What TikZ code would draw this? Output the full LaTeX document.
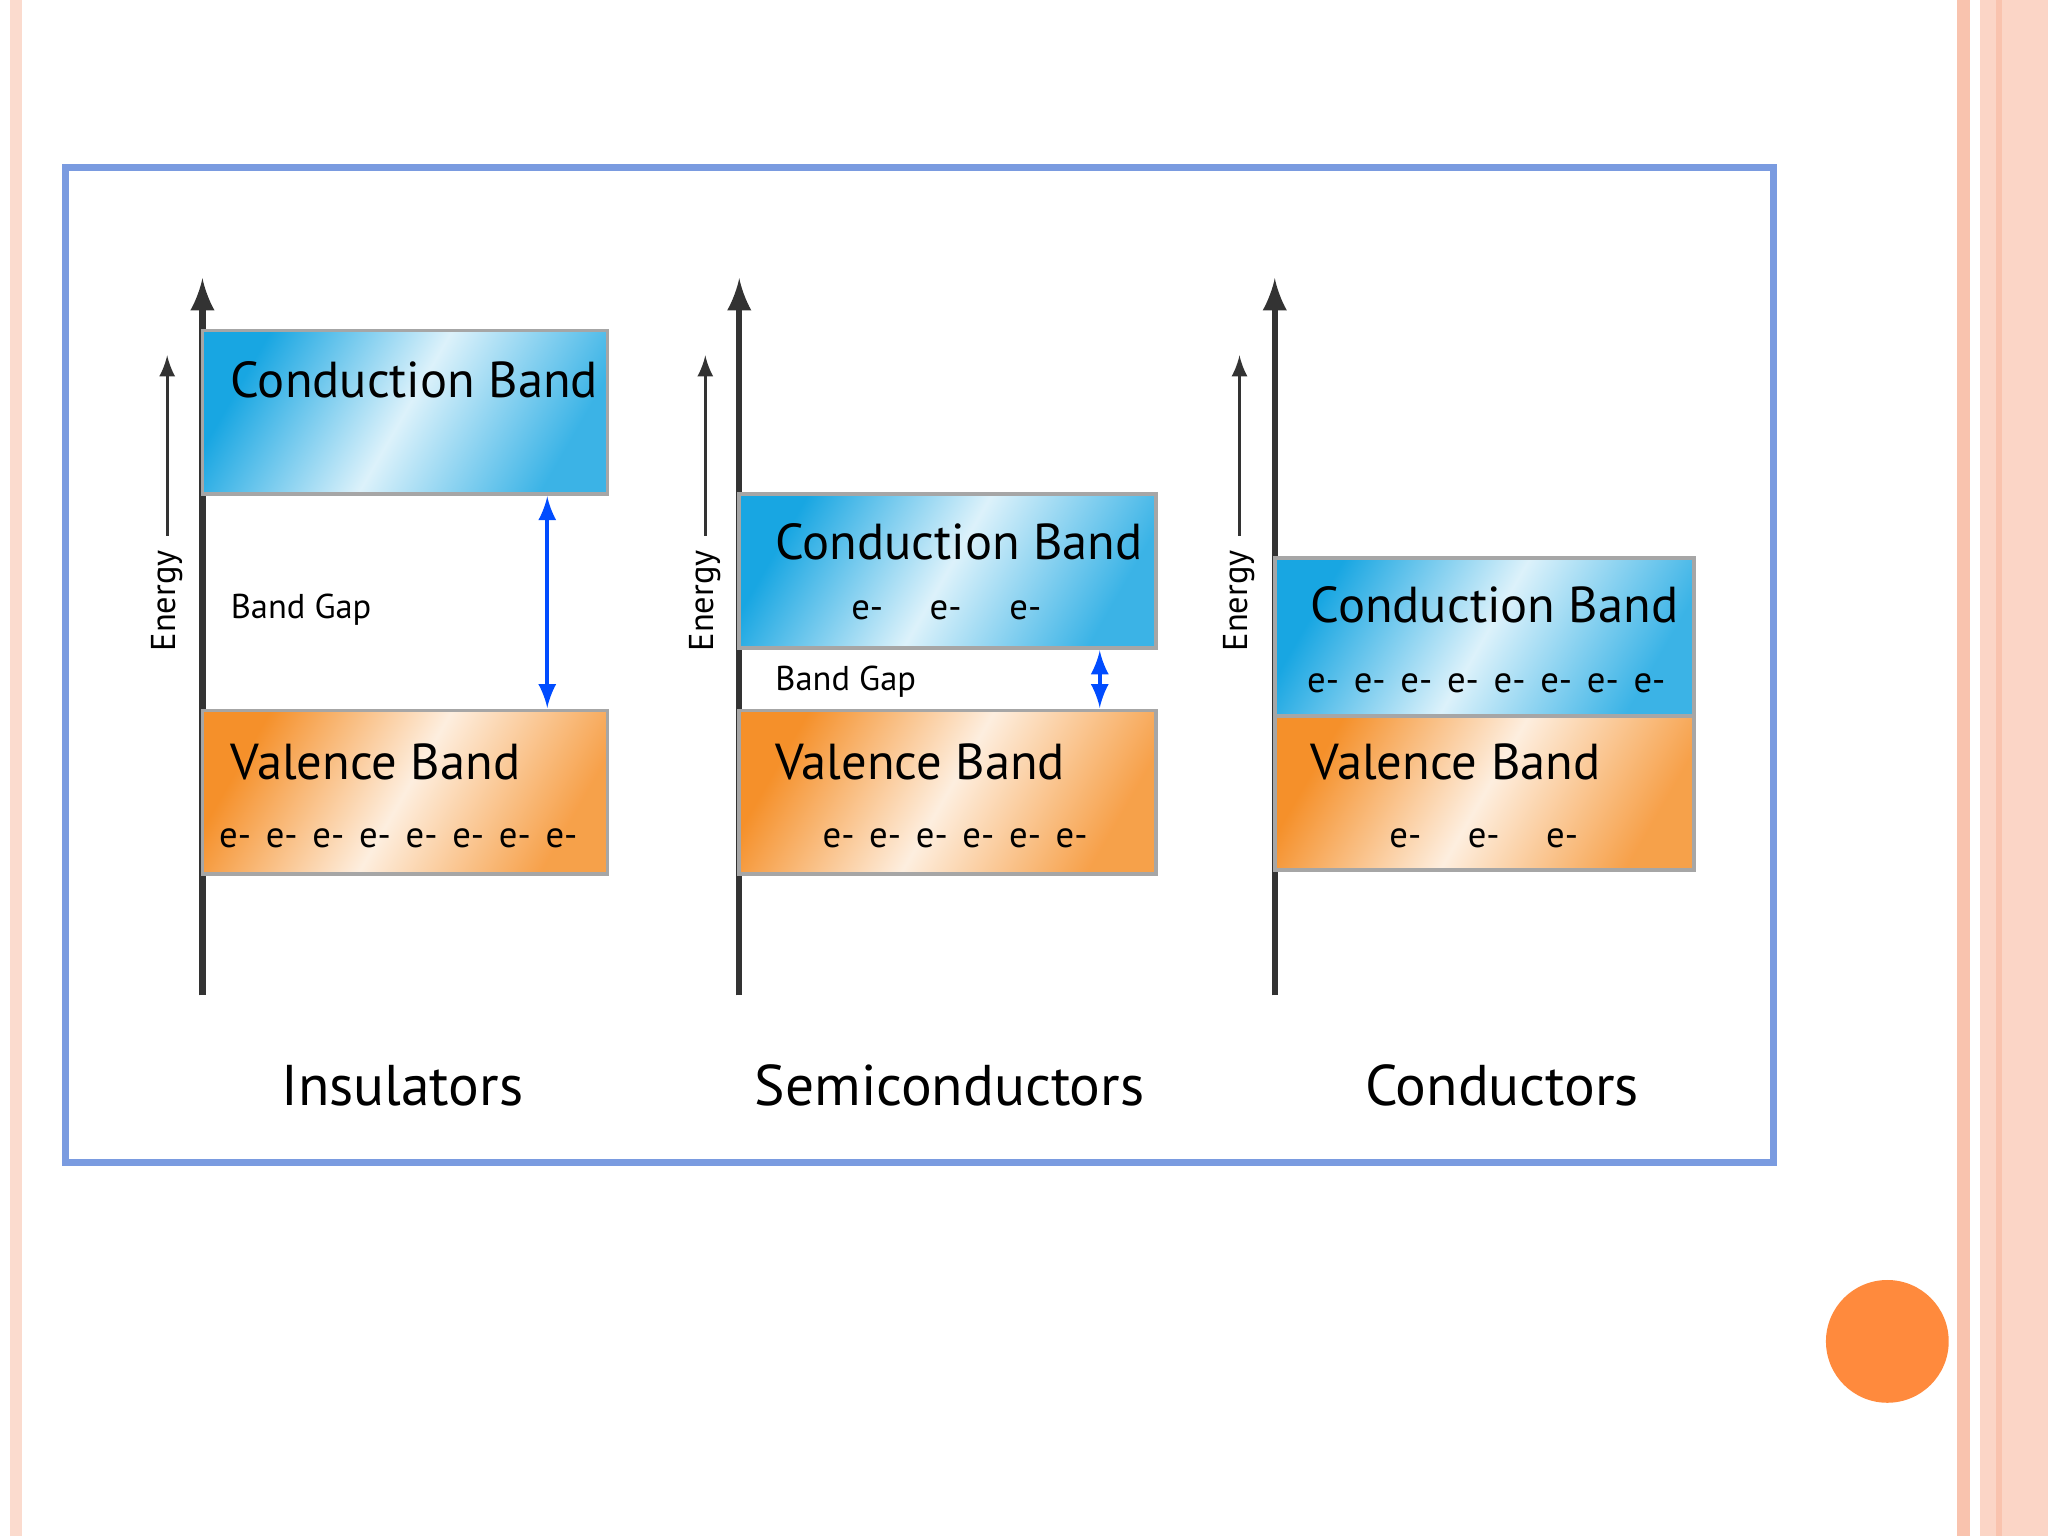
\documentclass[tikz,border=0pt]{standalone}
\usepackage{fontspec}
\setmainfont{PT Sans}
\usepackage{tikz}
\usetikzlibrary{positioning}
\definecolor{frameblue}{HTML}{7A9BE0}
\definecolor{cband}{HTML}{18A6E2}
\definecolor{vband}{HTML}{F5902A}
\definecolor{stripe}{HTML}{F9C3AE}
\definecolor{dot}{HTML}{FF8A3D}
\tikzset{band box/.style={
        draw=gray!70, line width=0.8pt, left color=#1, right color=#1!85,
        middle color=white!85!#1, shading angle=60,
    },
    band name/.style={
        anchor=west, font=\fontsize{11}{13}\selectfont, inner sep=0pt
    },
    electrons/.style={
        font=\fontsize{8}{9}\selectfont, inner sep=0pt
    },
    axis/.style={
        draw=black!80, line width=1.4pt, -latex
    },
    energy axis/.style={
        draw=black!80, line width=0.6pt, -latex
    },
    gap arrow/.style={
        draw=blue!70!cyan, line width=0.8pt, latex-latex
    },
    small text/.style={
        font=\fontsize{7.5}{8}\selectfont, inner sep=0pt
    },
    material/.style={
        font=\fontsize{12.5}{14}\selectfont
    },
}
\begin{document}
\begin{tikzpicture}[x=0.01cm, y=-0.01cm]
    \useasboundingbox (0,0) rectangle (1568,1176);
    %% slide decoration
    \fill[stripe!60] (8,0) rectangle (17,1176);
    \fill[stripe] (1498,0) rectangle (1508,1176);
    \fill[stripe!70] (1516,0) rectangle (1568,1176);
    \fill[stripe] (1528,0) rectangle (1533,1176);
    \fill[dot] (1445,1027) circle (47);
    \draw[frameblue, line width=1.5pt] (50,128) rectangle (1358,890);

    %% Insulators
    \coordinate (IB) at (155,762);
    \coordinate (IT) at (155,213);
    \draw[axis] (IB) -- (IT);
    \coordinate (IE0) at (128,410);
    \coordinate (IE1) at (128,272);
    \draw[energy axis] (IE0) -- (IE1);
    \node[small text, rotate=90] (IEn) at (128,460) {Energy};
    \path[band box=cband] (155,253) rectangle (465,378);
    \path[band box=vband] (155,544) rectangle (465,669);
    \node[band name] (ICB) at (176,291) {Conduction Band};
    \node[band name] (IVB) at (176,583) {Valence Band};
    \foreach \x in {0,...,7}
        \node[electrons] at (180+\x*35.7,642) {e-};
    \node[small text, anchor=west] (IGap) at (176,467) {Band Gap};
    \coordinate (IG0) at (419,380);
    \coordinate (IG1) at (419,542);
    \draw[gap arrow] (IG0) -- (IG1);
    \node[material] (Ins) at (308,831) {Insulators};

    %% Semiconductors
    \coordinate (SB) at (566,762);
    \coordinate (ST) at (566,213);
    \draw[axis] (SB) -- (ST);
    \coordinate (SE0) at (540,410);
    \coordinate (SE1) at (540,272);
    \draw[energy axis] (SE0) -- (SE1);
    \node[small text, rotate=90] (SEn) at (540,460) {Energy};
    \path[band box=cband] (566,378) rectangle (885,496);
    \path[band box=vband] (566,544) rectangle (885,669);
    \node[band name] (SCB) at (593,415) {Conduction Band};
    \node[band name] (SVB) at (593,583) {Valence Band};
    \foreach \x in {664,724,785}
        \node[electrons] at (\x,467) {e-};
    \foreach \x in {0,...,5}
        \node[electrons] at (642+\x*35.7,642) {e-};
    \node[small text, anchor=west] (SGap) at (593,522) {Band Gap};
    \coordinate (SG0) at (842,498);
    \coordinate (SG1) at (842,542);
    \draw[gap arrow] (SG0) -- (SG1);
    \node[material] (Semi) at (727,831) {Semiconductors};

    %% Conductors
    \coordinate (CB) at (976,762);
    \coordinate (CT) at (976,213);
    \draw[axis] (CB) -- (CT);
    \coordinate (CE0) at (949,410);
    \coordinate (CE1) at (949,272);
    \draw[energy axis] (CE0) -- (CE1);
    \node[small text, rotate=90] (CEn) at (949,460) {Energy};
    \path[band box=cband] (976,427) rectangle (1297,548);
    \path[band box=vband] (976,548) rectangle (1297,666);
    \node[band name] (CCB) at (1003,463) {Conduction Band};
    \node[band name] (CVB) at (1003,583) {Valence Band};
    \foreach \x in {0,...,7}
        \node[electrons] at (1013+\x*35.7,523) {e-};
    \foreach \x in {1076,1136,1196}
        \node[electrons] at (\x,642) {e-};
    \node[material] (Cond) at (1150,831) {Conductors};
\end{tikzpicture}
\end{document}
